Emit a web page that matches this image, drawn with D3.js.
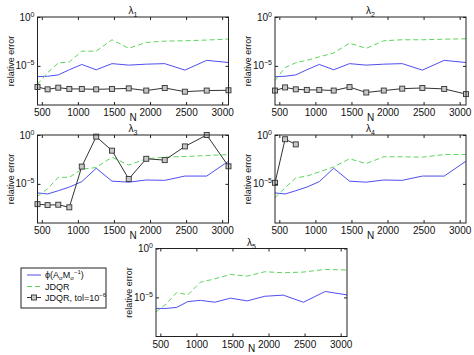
<!DOCTYPE html>
<html><head><meta charset="utf-8">
<script src="https://cdn.jsdelivr.net/npm/d3@7"></script>
<style>
body{margin:0;background:#fff;}
text{font-family:"Liberation Sans",Arial,sans-serif;fill:#111;}
</style></head>
<body><svg id="c" width="474" height="355"></svg>
<script>
const N = [440, 580, 728, 881, 1054, 1254, 1473, 1705, 1948, 2204, 2483, 2786, 3088];
const xTicks = [500, 1000, 1500, 2000, 2500, 3000];
const yTicks = [1e-5, 1];
const titles = ["1", "2", "3", "4", "5"];

const phi1 = [7.9e-7, 8.7e-7, 1.2e-6, 4.0e-6, 1.4e-5, 4.0e-6, 1.7e-5, 1.2e-5, 1.5e-5, 1.7e-5, 3.7e-6, 3.7e-5, 2.2e-5];
const jdqr1 = [1.3e-7, 2.0e-6, 2.0e-5, 2.5e-5, 3.2e-4, 3.2e-4, 4.7e-3, 6.3e-4, 2.5e-3, 3.4e-3, 3.7e-3, 4.4e-3, 5.5e-3];
const tol1 = [6.9e-8, 4.0e-8, 5.9e-8, 4.4e-8, 4.4e-8, 4.0e-8, 4.4e-8, 5.0e-8, 3.0e-8, 5.5e-8, 2.3e-8, 3.0e-8, 3.2e-8];

const phi2 = [7.9e-7, 8.7e-7, 1.2e-6, 4.0e-6, 1.4e-5, 4.0e-6, 1.7e-5, 1.2e-5, 1.5e-5, 1.7e-5, 3.7e-6, 3.7e-5, 2.2e-5];
const jdqr2 = [3.2e-7, 6.8e-6, 2.1e-5, 3.7e-5, 8.5e-5, 2.1e-4, 2.1e-3, 6.3e-4, 3.7e-3, 4.7e-3, 4.7e-3, 5.4e-3, 5.9e-3];
const tol2 = [3.0e-8, 6.3e-8, 4.0e-8, 3.5e-8, 3.5e-8, 3.0e-8, 6.8e-8, 1.9e-8, 3.0e-8, 4.7e-8, 5.5e-8, 4.4e-8, 1.3e-8];

const phi3 = [1.2e-6, 9.3e-7, 2.0e-6, 4.7e-6, 1.7e-5, 4.0e-4, 1.9e-5, 1.5e-5, 2.5e-5, 2.3e-5, 6.3e-5, 6.3e-5, 2.1e-3];
const jdqr3 = [5.4e-7, 3.2e-6, 4.7e-5, 4.7e-5, 3.2e-4, 4.7e-4, 5.4e-3, 8.5e-4, 3.7e-3, 5.4e-3, 6.3e-3, 7.9e-3, 1.0e-2];
const tol3 = [8.5e-8, 6.8e-8, 7.4e-8, 4.0e-8, 5.9e-4, 0.68, 0.025, 3.2e-5, 3.7e-3, 2.7e-3, 0.068, 1.0, 6.3e-4];

const phi4 = [1.2e-6, 9.3e-7, 2.0e-6, 4.7e-6, 1.7e-5, 4.0e-4, 1.9e-5, 1.5e-5, 2.5e-5, 2.3e-5, 6.3e-5, 6.3e-5, 2.1e-3];
const jdqr4 = [4.0e-7, 4.0e-6, 4.0e-5, 6.3e-5, 1.7e-4, 5.4e-4, 3.7e-3, 1.2e-3, 5.9e-3, 5.9e-3, 5.4e-3, 1.0e-2, 1.0e-2];
const tol4 = [1.3e-5, 0.37, 0.11, null, null, null, null, null, null, null, null, null, null];

const phi5 = [7.4e-7, 7.4e-7, 9.5e-7, 3.7e-6, 5.0e-6, 3.2e-6, 8.3e-6, 4.4e-6, 1.3e-5, 1.7e-5, 3.2e-6, 4.0e-5, 1.8e-5];
const jdqr5 = [3.3e-7, 2.1e-6, 3.2e-5, 1.8e-5, 3.5e-4, 7.9e-4, 2.2e-3, 1.5e-3, 4.2e-3, 3.3e-3, 3.9e-3, 7.2e-3, 6.3e-3];

const panelsData = [
  {phi: phi1, jdqr: jdqr1, tol: tol1},
  {phi: phi2, jdqr: jdqr2, tol: tol2},
  {phi: phi3, jdqr: jdqr3, tol: tol3},
  {phi: phi4, jdqr: jdqr4, tol: tol4},
  {phi: phi5, jdqr: jdqr5, tol: null}
];
const pos = [[37.5, 17], [275, 17], [37.5, 135], [275, 135], [156, 248.5]];
const W = 191, H = 88;
const BLUE = "#4f4ff0", GREEN = "#5cd45c", BLACK = "#333";

const svg = d3.select("#c");

panelsData.forEach((p, i) => {
  const [L, T] = pos[i];
  const g = svg.append("g").attr("transform", `translate(${L},${T})`);
  const x = d3.scaleLinear().domain([N[0], N[N.length - 1]]).range([0, W]);
  const y = d3.scaleLog().domain([1e-9, 1]).range([H, 0]);

  const clip = "clip" + i;
  g.append("clipPath").attr("id", clip).append("rect").attr("x", -1).attr("y", -1).attr("width", W + 2).attr("height", H + 2);

  const line = d3.line().defined(d => d[1] != null).x(d => x(d[0])).y(d => y(d[1]));
  const pl = g.append("g").attr("clip-path", `url(#${clip})`);
  pl.append("path").attr("d", line(N.map((n, k) => [n, p.phi[k]])))
    .attr("fill", "none").attr("stroke", BLUE).attr("stroke-width", 1);
  pl.append("path").attr("d", line(N.map((n, k) => [n, p.jdqr[k]])))
    .attr("fill", "none").attr("stroke", GREEN).attr("stroke-width", 1).attr("stroke-dasharray", "5,3");
  if (p.tol) {
    const pts = N.map((n, k) => [n, p.tol[k]]);
    pl.append("path").attr("d", line(pts))
      .attr("fill", "none").attr("stroke", BLACK).attr("stroke-width", 1);
    g.selectAll(".m").data(pts.filter(d => d[1] != null)).enter().append("rect")
      .attr("x", d => x(d[0]) - 2.5).attr("y", d => y(d[1]) - 2.5)
      .attr("width", 5).attr("height", 5)
      .attr("fill", "#c8c8c8").attr("stroke", BLACK).attr("stroke-width", 0.9);
  }

  const ax = g.append("g").attr("transform", `translate(0,${H})`)
    .call(d3.axisBottom(x).tickValues(xTicks).tickSizeInner(-3).tickSizeOuter(0).tickPadding(4).tickFormat(d3.format("d")));
  ax.select(".domain").remove();
  ax.selectAll("text").attr("font-size", 10).attr("fill", "#111")
    .style("font-family", "Liberation Sans, Arial, sans-serif");
  ax.selectAll("line").attr("stroke", "#222");
  const axT = g.append("g").call(d3.axisTop(x).tickValues(xTicks).tickSizeInner(-3).tickSizeOuter(0).tickFormat(""));
  axT.select(".domain").remove();
  axT.selectAll("line").attr("stroke", "#222");

  const ay = g.append("g").call(d3.axisLeft(y).tickValues(yTicks).tickSizeInner(-3).tickSizeOuter(0).tickFormat(""));
  ay.select(".domain").remove();
  ay.selectAll("line").attr("stroke", "#222");
  const ayR = g.append("g").attr("transform", `translate(${W},0)`)
    .call(d3.axisRight(y).tickValues(yTicks).tickSizeInner(-3).tickSizeOuter(0).tickFormat(""));
  ayR.select(".domain").remove();
  ayR.selectAll("line").attr("stroke", "#222");

  yTicks.forEach(v => {
    const e = Math.round(Math.log10(v));
    const t = g.append("text").attr("x", -3).attr("y", y(v) + 3.5)
      .attr("text-anchor", "end").attr("font-size", 10);
    t.append("tspan").text("10");
    t.append("tspan").attr("dy", -4).attr("font-size", 7).text(e === 0 ? "0" : "\u2212" + Math.abs(e));
  });

  g.append("rect").attr("width", W).attr("height", H).attr("fill", "none")
    .attr("stroke", "#222").attr("stroke-width", 1);

  const tt = g.append("text").attr("x", W / 2).attr("y", -3).attr("text-anchor", "middle").attr("font-size", 10);
  tt.append("tspan").text("\u03bb");
  tt.append("tspan").attr("dy", 3).attr("font-size", 7).text(titles[i]);

  g.append("text").attr("x", W / 2).attr("y", H + 15.5).attr("text-anchor", "middle")
    .attr("font-size", 10).text("N");
  g.append("text").attr("transform", `translate(${-24},${H / 2}) rotate(-90)`)
    .attr("text-anchor", "middle").attr("font-size", 9).text("relative error");
});

const lg = svg.append("g").attr("transform", "translate(21,268)");
lg.append("rect").attr("width", 85).attr("height", 40).attr("fill", "#fff").attr("stroke", "#222").attr("stroke-width", 1);
const rows = [7, 18.5, 29.5];
lg.append("line").attr("x1", 6).attr("x2", 20).attr("y1", rows[0]).attr("y2", rows[0]).attr("stroke", BLUE);
lg.append("line").attr("x1", 6).attr("x2", 20).attr("y1", rows[1]).attr("y2", rows[1]).attr("stroke", GREEN).attr("stroke-dasharray", "5,3");
lg.append("line").attr("x1", 6).attr("x2", 20).attr("y1", rows[2]).attr("y2", rows[2]).attr("stroke", BLACK);
lg.append("rect").attr("x", 10.5).attr("y", rows[2] - 2.5).attr("width", 5).attr("height", 5).attr("fill", "#c8c8c8").attr("stroke", BLACK).attr("stroke-width", 0.9);

const t1 = lg.append("text").attr("x", 24).attr("y", rows[0] + 3).attr("font-size", 9);
t1.append("tspan").text("\u03d5(A");
t1.append("tspan").attr("dy", 2).attr("font-size", 6).text("\u03c3");
t1.append("tspan").attr("dy", -2).text("M");
t1.append("tspan").attr("dy", 2).attr("font-size", 6).text("\u03c3");
t1.append("tspan").attr("dy", -6).attr("font-size", 6).text("\u22121");
t1.append("tspan").attr("dy", 4).text(")");
lg.append("text").attr("x", 24).attr("y", rows[1] + 3).attr("font-size", 9).text("JDQR");
const t3 = lg.append("text").attr("x", 24).attr("y", rows[2] + 3).attr("font-size", 9);
t3.append("tspan").text("JDQR, tol=10");
t3.append("tspan").attr("dy", -4).attr("font-size", 6).text("\u22126");
</script></body></html>
